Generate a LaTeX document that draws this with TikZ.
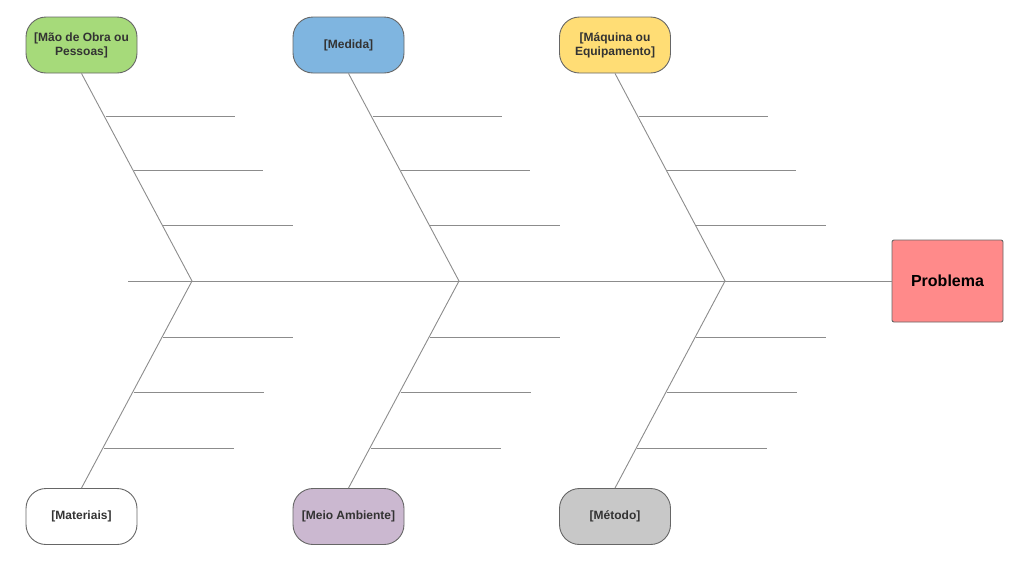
\documentclass[tikz,border=0pt]{standalone}
\usepackage{fontspec}
\setmainfont{Liberation Sans}
\begin{document}
\begin{tikzpicture}[x=1pt,y=-1pt,
  cat/.style={draw=black!60,line width=0.9pt,rounded corners=20pt,minimum width=111pt,minimum height=56pt,inner sep=1pt,align=center,font=\fontsize{12}{14}\selectfont\bfseries,text=black!80},
  bone/.style={draw=black!45,line width=0.9pt}]
\useasboundingbox (0,0) rectangle (1024,566);
\definecolor{cg}{HTML}{A6DA7A}\definecolor{cb}{HTML}{7FB5E0}\definecolor{cy}{HTML}{FFDD75}
\definecolor{cl}{HTML}{CBB8D0}\definecolor{cr}{HTML}{C8C8C8}\definecolor{cp}{HTML}{FF8A8A}
\node[cat,fill=cg] (t1) at (81.5,45) {[Mão de Obra ou\\Pessoas]};
\node[cat,fill=cb] (t2) at (348.5,45) {[Medida]};
\node[cat,fill=cy] (t3) at (615,45) {[Máquina ou\\Equipamento]};
\node[cat,fill=white] (b1) at (81.5,516.5) {[Materiais]};
\node[cat,fill=cl] (b2) at (348.5,516.5) {[Meio Ambiente]};
\node[cat,fill=cr] (b3) at (615,516.5) {[Método]};
\node[draw=black!60,line width=0.9pt,rounded corners=2pt,fill=cp,minimum width=111pt,minimum height=82pt,font=\fontsize{16}{18}\selectfont\bfseries] (p) at (947.5,281) {Problema};
\coordinate (s0) at (128,281);
\draw[bone] (s0) -- (p.west);
\foreach \i/\dx in {1/0,2/267,3/533}{
  \coordinate (j\i) at (192+\dx,281);
  \draw[bone] (t\i.south) -- (j\i) -- (b\i.north);
  \foreach \y/\l in {116/235,170/263,225/293}{
    \coordinate (a) at ({83+\dx+(\y-73)/208*109},\y);
    \coordinate (c) at (\l+\dx,\y);
    \draw[bone] (a) -- (c);}
  \foreach \y/\l in {337/293,392/264,448/234}{
    \coordinate (a) at ({83+\dx+(489-\y)/208*109},\y);
    \coordinate (c) at (\l+\dx,\y);
    \draw[bone] (a) -- (c);}
}
\end{tikzpicture}
\end{document}
